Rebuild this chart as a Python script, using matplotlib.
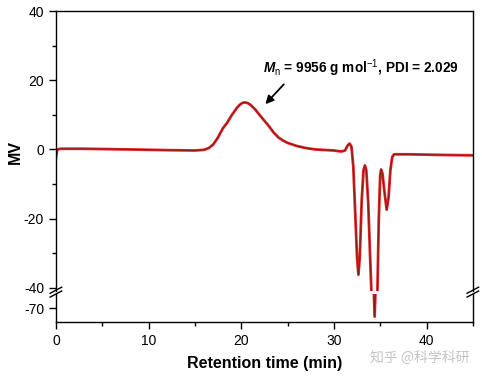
import matplotlib.pyplot as plt
from matplotlib.ticker import MultipleLocator

plt.rcParams['font.family'] = ['Liberation Sans', 'DejaVu Sans']
plt.rcParams['axes.unicode_minus'] = False
plt.rcParams['mathtext.fontset'] = 'custom'
plt.rcParams['mathtext.rm'] = 'Liberation Sans'
plt.rcParams['mathtext.it'] = 'Liberation Sans:italic'
plt.rcParams['mathtext.bf'] = 'Liberation Sans:bold'
plt.rcParams['mathtext.bfit'] = 'Liberation Sans:italic:bold'

# trace: retention time (min) vs signal (MV)
t = [0.0, 0.15, 0.5, 3.0, 8.0, 12.0, 15.0, 16.0, 16.5, 17.0, 17.5, 18.0,
     18.5, 19.0, 19.5, 19.8, 20.1, 20.4, 20.7, 21.0, 21.5, 22.0, 22.5, 23.0,
     23.5, 24.0, 24.5, 25.0, 26.0, 27.0, 28.0, 30.0, 30.8, 31.2, 31.5, 31.7,
     31.9, 32.1, 32.3, 32.5, 32.65, 32.8, 33.0, 33.2, 33.35, 33.5, 33.7, 33.9,
     34.05, 34.25, 34.4, 34.55, 34.7, 34.85, 35.0, 35.1, 35.25, 35.45, 35.7,
     35.9, 36.1, 36.3, 36.5, 38.0, 42.0, 45.0]
mv = [-2.5, 0.0, 0.2, 0.2, 0.0, -0.2, -0.3, -0.1, 0.4, 1.5, 3.5, 6.0,
      7.8, 10.0, 11.9, 12.8, 13.4, 13.6, 13.4, 12.9, 11.6, 9.9, 8.3, 6.7,
      4.9, 3.5, 2.6, 1.9, 1.0, 0.4, 0.0, -0.3, -0.6, -0.3, 1.2, 1.7,
      0.8, -5.0, -18.0, -31.0, -36.2, -31.0, -15.0, -6.0, -4.6, -6.0, -15.0, -30.0,
      -41.0, -60.0, -72.5, -60.0, -41.0, -20.0, -7.5, -5.8, -7.0, -12.0, -17.4,
      -14.0, -6.0, -2.2, -1.4, -1.4, -1.6, -1.7]

fig = plt.figure(figsize=(4.82, 3.8), dpi=100)
ax1 = fig.add_axes([0.116, 0.2342, 0.865, 0.7368])
ax2 = fig.add_axes([0.116, 0.1526, 0.865, 0.0737])

for ax in (ax1, ax2):
    ax.plot(t, mv, color='#e02424', lw=2.0, solid_joinstyle='round')
    ax.plot(t, mv, color='#8a1a1a', lw=0.7)
    ax.set_xlim(0, 45)
    for s in ax.spines.values():
        s.set_linewidth(1.0)

ax1.set_ylim(-40.9, 40)
ax2.set_ylim(-74.06, -65.94)

ax1.spines['bottom'].set_visible(False)
ax2.spines['top'].set_visible(False)
ax1.tick_params(axis='x', which='both', bottom=False, labelbottom=False)
ax1.yaxis.set_major_locator(MultipleLocator(20))
ax1.yaxis.set_minor_locator(MultipleLocator(10))
ax2.set_yticks([-70])
ax2.xaxis.set_major_locator(MultipleLocator(10))
ax2.xaxis.set_minor_locator(MultipleLocator(5))

for ax in (ax1, ax2):
    ax.tick_params(which='major', direction='out', length=5, width=1,
                   labelsize=10, right=False, top=False)
    ax.tick_params(which='minor', direction='out', length=3, width=1,
                   right=False, top=False)

# break marks on both spines
for xa in (0, 1):
    for dy in (-0.004, 0.006):
        fig.lines.append(plt.Line2D(
            [0.116 + 0.865 * xa - 0.012, 0.116 + 0.865 * xa + 0.012],
            [0.2342 - 0.004 + dy - 0.008, 0.2342 - 0.004 + dy + 0.008],
            color='black', lw=1.0, transform=fig.transFigure))

ax1.annotate('', xy=(22.4, 12.5), xytext=(24.8, 19.4),
             arrowprops=dict(arrowstyle='-|>', color='black', lw=1.3,
                             mutation_scale=12))
ax1.text(22.3, 23.4, r'$\mathbfit{M}_\mathrm{n}$ = 9956 g mol$^{-1}$, PDI = 2.029',
         fontsize=9.8, fontweight='bold', va='center', ha='left')

ax2.set_xlabel('Retention time (min)', fontsize=11.5, fontweight='bold', labelpad=6)
fig.text(0.032, 0.6, 'MV', rotation=90, fontsize=11.5, fontweight='bold',
         va='center', ha='center')

fig.text(0.87, 0.058, '知乎 @科学科研', fontsize=10, color='#c4c4c4',
         ha='center', va='center', family=['Noto Sans CJK SC', 'DejaVu Sans'])

fig.savefig('out.png', dpi=100)
